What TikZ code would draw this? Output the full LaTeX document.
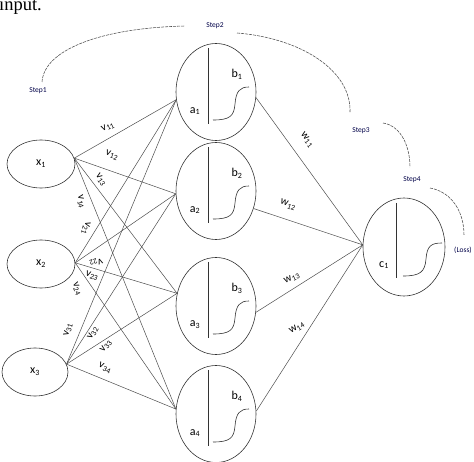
\documentclass[tikz,border=0pt]{standalone}
\usepackage{fontspec}
\setmainfont{Carlito}
\newfontfamily\serifin{Liberation Serif}
\usetikzlibrary{shapes.geometric}
\begin{document}
\begin{tikzpicture}[x=1pt,y=-1pt,
  neuron/.style={draw=black!80, ellipse, inner sep=0pt, line width=0.6pt},
  link/.style={draw=black!70, line width=0.5pt},
  wlab/.style={font=\fontsize{11}{11}\selectfont, inner sep=0pt},
  steplab/.style={font=\fontsize{7.5}{8}\selectfont, text=black!65!blue!80!black, inner sep=1pt},
  arcline/.style={draw=black!70, dash pattern=on 3pt off 1pt, line width=0.55pt},
  nlab/.style={font=\fontsize{12}{12}\selectfont, inner sep=0pt},
  sig/.style={draw=black!80, line width=0.6pt}
]
\useasboundingbox (0,0) rectangle (474,462);

\node[anchor=base west, font=\serifin\fontsize{18.5}{18.5}\selectfont, inner sep=0pt] (intro) at (-1,11) {input.};

% input neurons
\node[neuron, nlab, minimum width=68pt, minimum height=48pt] (x1) at (41,164) {x\textsubscript{1}};
\node[neuron, nlab, minimum width=68pt, minimum height=48pt] (x2) at (41,264) {x\textsubscript{2}};
\node[neuron, nlab, minimum width=66pt, minimum height=48pt] (x3) at (35,372) {x\textsubscript{3}};

% hidden neurons
\foreach \i/\cy in {1/92,2/191,3/306,4/414}{
  \node[neuron, minimum width=80pt, minimum height=97pt] (h\i) at (216,\cy) {};
  \draw[sig] ([shift={(-8,-44)}]h\i.center) -- ([shift={(-8,32)}]h\i.center);
  \node[nlab] (a\i) at ([shift={(-21,19)}]h\i.center) {a\textsubscript{\i}};
  \node[nlab] (b\i) at ([shift={(21,-18)}]h\i.center) {b\textsubscript{\i}};
  \draw[sig] ([shift={(-3,28)}]h\i.center) .. controls ([shift={(14,28)}]h\i.center) and ([shift={(18,24)}]h\i.center) .. ([shift={(19,12)}]h\i.center)
             .. controls ([shift={(20,-1)}]h\i.center) and ([shift={(24,-5)}]h\i.center) .. ([shift={(33,-5)}]h\i.center);
}

% output neuron
\node[neuron, minimum width=82pt, minimum height=98pt] (c1) at (404,247) {};
\draw[sig] ([shift={(-8,-44)}]c1.center) -- ([shift={(-8,31)}]c1.center);
\node[nlab] (c1l) at ([shift={(-20,18)}]c1.center) {c\textsubscript{1}};
\draw[sig] ([shift={(-1,29)}]c1.center) .. controls ([shift={(16,29)}]c1.center) and ([shift={(21,25)}]c1.center) .. ([shift={(22,12)}]c1.center)
           .. controls ([shift={(23,-1)}]c1.center) and ([shift={(27,-4)}]c1.center) .. ([shift={(38,-4)}]c1.center);

% input -> hidden
\foreach \s/\sa in {x1/10,x2/2,x3/14}{
  \foreach \t/\ta in {h1/191,h2/184,h3/162,h4/173}{
    \draw[link] (\s.\sa) -- (\t.\ta);
  }
}
% hidden -> output
\foreach \t/\ta in {h1/352,h2/335,h3/351,h4/4}{
  \draw[link] (\t.\ta) -- (c1.177);
}

% weight labels
\node[wlab, rotate=25]  (v11) at (108,127) {v\textsubscript{11}};
\node[wlab, rotate=-20] (v12) at (112,155) {v\textsubscript{12}};
\node[wlab, rotate=-55] (v13) at (101,180) {v\textsubscript{13}};
\node[wlab, rotate=-78] (v14) at (81,202) {v\textsubscript{14}};
\node[wlab, rotate=-105] (v21) at (86,228) {v\textsubscript{21}};
\node[wlab, rotate=-160] (v22) at (96,262) {v\textsubscript{22}};
\node[wlab, rotate=-20] (v23) at (92,276) {v\textsubscript{23}};
\node[wlab, rotate=-68] (v24) at (77,289) {v\textsubscript{24}};
\node[wlab, rotate=75]  (v31) at (68,330) {v\textsubscript{31}};
\node[wlab, rotate=62]  (v32) at (93,333) {v\textsubscript{32}};
\node[wlab, rotate=52]  (v33) at (106,346) {v\textsubscript{33}};
\node[wlab, rotate=-25] (v34) at (105,368) {v\textsubscript{34}};

\node[wlab, rotate=-52] (w11) at (307,140) {w\textsubscript{11}};
\node[wlab, rotate=-20] (w12) at (288,205) {w\textsubscript{12}};
\node[wlab, rotate=25]  (w13) at (292,278) {w\textsubscript{13}};
\node[wlab, rotate=32]  (w14) at (297,328) {w\textsubscript{14}};

% steps
\node[steplab] (s1) at (38,91) {Step1};
\node[steplab] (s2) at (215,26) {Step2};
\node[steplab] (s3) at (361,131) {Step3};
\node[steplab] (s4) at (412,180) {Step4};
\node[steplab] (loss) at (463,250) {(Loss)};

\coordinate (p1a) at (42,82);   \coordinate (p1b) at (185,26);
\coordinate (p2a) at (237,33);  \coordinate (p2b) at (350,113);
\coordinate (p3a) at (383,123); \coordinate (p3b) at (410,167);
\coordinate (p4a) at (430,188); \coordinate (p4b) at (464,235);

\draw[arcline] (p1a) .. controls (44,50) and (100,28) .. (p1b);
\draw[arcline] (p2a) .. controls (300,38) and (352,70) .. (p2b);
\draw[arcline] (p3a) .. controls (402,126) and (410,148) .. (p3b);
\draw[arcline] (p4a) .. controls (452,192) and (464,212) .. (p4b);
\end{tikzpicture}
\end{document}
